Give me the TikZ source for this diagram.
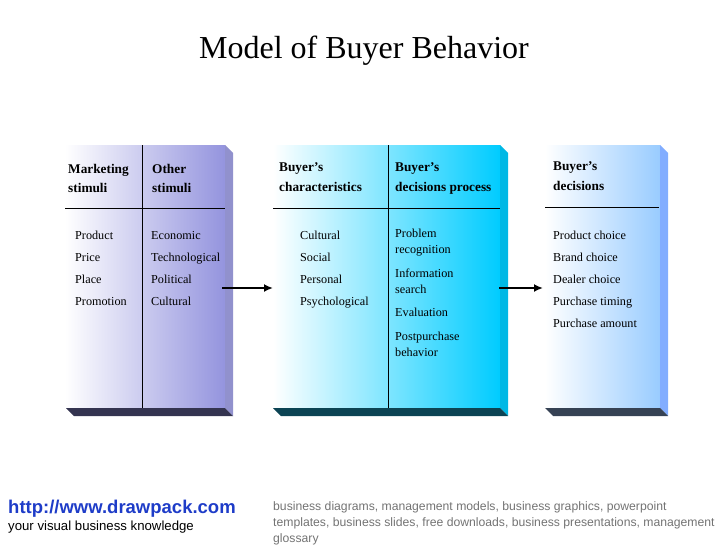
\documentclass[tikz,border=0pt]{standalone}
\usepackage{fontspec}
\setmainfont{Liberation Serif}
\newfontfamily\arialf{Liberation Sans}
\begin{document}
\begin{tikzpicture}[x=1pt,y=-1pt,
  itm/.style={anchor=base west,inner sep=0pt,font=\fontsize{12.2}{14}\selectfont},
  hd/.style={anchor=base west,inner sep=0pt,font=\fontsize{13.3}{15}\selectfont\bfseries},
  arr/.style={-{Latex[length=9pt,width=8pt]},line width=2pt},
  ln/.style={line width=0.8pt}]
\usetikzlibrary{arrows.meta}
\useasboundingbox (0,0) rectangle (728,546);
\definecolor{lav}{HTML}{9494DE}
\definecolor{cyn}{HTML}{00CCFF}
\definecolor{lbl}{HTML}{99CCFF}
\node[anchor=base,inner sep=0pt,font=\fontsize{32}{36}\selectfont] (title) at (364,58) {Model of Buyer Behavior};
% box 1
\shade[left color=white,right color=lav] (65,145) rectangle (225,408);
\fill[lav!90!black!90] (225,145) -- (233,153) -- (233,416) -- (225,408) -- cycle;
\fill[fill={rgb,255:red,52;green,52;blue,80}] (66,408) -- (225,408) -- (233,416) -- (74,416) -- cycle;
\draw[ln] (142,145) -- (142,408);
\draw[ln] (65,208) -- (225,208);
% box 2
\shade[left color=white,right color=cyn] (273,145) rectangle (500,408);
\fill[cyn!90!black] (500,145) -- (508,153) -- (508,416) -- (500,408) -- cycle;
\fill[fill={rgb,255:red,12;green,68;blue,84}] (273,408) -- (500,408) -- (508,416) -- (281,416) -- cycle;
\draw[ln] (388,145) -- (388,408);
\draw[ln] (273,208) -- (500,208);
% box 3
\shade[left color=white,right color=lbl] (545,145) rectangle (660,408);
\fill[lbl!85!blue] (660,145) -- (668,153) -- (668,416) -- (660,408) -- cycle;
\fill[fill={rgb,255:red,54;green,66;blue,84}] (545,408) -- (660,408) -- (668,416) -- (553,416) -- cycle;
\draw[ln] (545,207) -- (659,207);
% arrows
\coordinate (a1) at (222,288); \coordinate (b1) at (273,288);
\coordinate (a2) at (499,288); \coordinate (b2) at (543,288);
\draw[arr] (a1) -- (b1);
\draw[arr] (a2) -- (b2);
% headings
\node[hd] (h1a) at (68,173) {Marketing};
\node[hd] (h1b) at (68,192) {stimuli};
\node[hd] (h2a) at (152,173) {Other};
\node[hd] (h2b) at (152,192) {stimuli};
\node[hd] (h3a) at (279,171) {Buyer’s};
\node[hd] (h3b) at (279,191) {characteristics};
\node[hd] (h4a) at (395,171) {Buyer’s};
\node[hd] (h4b) at (395,191) {decisions process};
\node[hd] (h5a) at (553,170) {Buyer’s};
\node[hd] (h5b) at (553,190) {decisions};
% items
\foreach \t [count=\i] in {Product,Price,Place,Promotion}
  \node[itm] (m\i) at (75,{239+22*(\i-1)}) {\t};
\foreach \t [count=\i] in {Economic,Technological,Political,Cultural}
  \node[itm] (o\i) at (151,{239+22*(\i-1)}) {\t};
\foreach \t [count=\i] in {Cultural,Social,Personal,Psychological}
  \node[itm] (c\i) at (300,{239+22*(\i-1)}) {\t};
\node[itm] (p1) at (395,237) {Problem};
\node[itm] (p2) at (395,253) {recognition};
\node[itm] (p3) at (395,277) {Information};
\node[itm] (p4) at (395,293) {search};
\node[itm] (p5) at (395,316) {Evaluation};
\node[itm] (p6) at (395,340) {Postpurchase};
\node[itm] (p7) at (395,356) {behavior};
\foreach \t [count=\i] in {Product choice,Brand choice,Dealer choice,Purchase timing,Purchase amount}
  \node[itm] (d\i) at (553,{239+22*(\i-1)}) {\t};
% footer
\node[anchor=base west,inner sep=0pt,font=\arialf\fontsize{18.5}{20}\selectfont\bfseries,text={rgb,255:red,30;green,60;blue,200}] (url) at (8,513) {http://www.drawpack.com};
\node[anchor=base west,inner sep=0pt,font=\arialf\fontsize{13.2}{15}\selectfont] (tag) at (8,530) {your visual business knowledge};
\node[anchor=north west,inner sep=0pt,align=left,text=black!55,font=\arialf\fontsize{12.2}{16}\selectfont] (kw) at (273,501) {business diagrams, management models, business graphics, powerpoint\\templates, business slides, free downloads, business presentations, management\\glossary};
\end{tikzpicture}
\end{document}
